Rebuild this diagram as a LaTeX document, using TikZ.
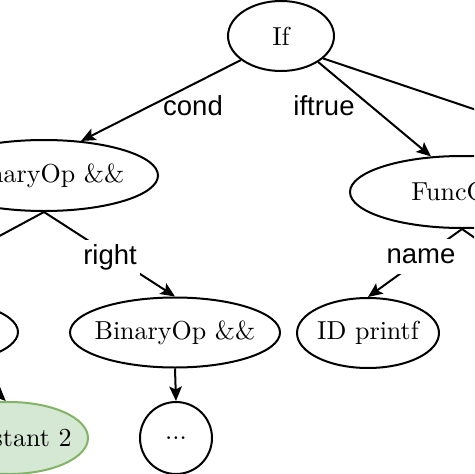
\documentclass[tikz,border=0pt]{standalone}
\usepackage{fontspec}
\newfontfamily\lblfont{Liberation Sans}
\usetikzlibrary{shapes.geometric,arrows.meta}
\definecolor{constfill}{RGB}{213,232,212}
\definecolor{constdraw}{RGB}{130,179,102}
\begin{document}
\begin{tikzpicture}[x=0.4pt,y=-0.4pt,
  nd/.style={ellipse,draw,line width=0.8pt,inner xsep=-4pt,inner ysep=0pt,font=\fontsize{10.4}{12}\selectfont},
  lbl/.style={font=\lblfont\fontsize{11}{13}\selectfont,anchor=base,inner sep=0pt},
  lblbg/.style={lbl,fill=white,inner sep=1.5pt,text height=8pt,text depth=3pt},
  edge/.style={line width=0.8pt,-{Stealth[length=5.8pt,width=5pt,inset=1.2pt]}}]
\useasboundingbox (0,0) rectangle (474,474);
\clip (0,0) rectangle (474,474);
\fill[white] (0,0) rectangle (474,474);
% nodes
\node[nd,minimum width=42.4pt,minimum height=28pt] (if) at (281,36) {If};
\node[nd,minimum width=91.2pt,minimum height=28.4pt] (binl) at (44,175.5) {BinaryOp \&\&};
\node[nd,minimum width=84pt,minimum height=28pt] (leftn) at (-87,332) {};
\node[nd,minimum width=84pt,minimum height=28pt] (binr) at (175,332.5) {BinaryOp \&\&};
\node[nd,minimum width=89.6pt,minimum height=28.8pt] (func) at (462,192) {FuncCall};
\node[nd,minimum width=56.8pt,minimum height=28pt] (idp) at (368,333) {ID printf};
\node[nd,fill=constfill,draw=constdraw,minimum width=63.2pt,minimum height=28.8pt] (const) at (9,438) {Constant 2};
\node[circle,draw,line width=0.8pt,minimum size=28.8pt,inner sep=0pt,font=\fontsize{10.4}{12}\selectfont] (dots) at (176,438) {...};
\coordinate (offr) at (640,165);
\coordinate (offfr) at (560,297);
% edges
\draw[edge] (if.211) -- (binl.43);
\draw[edge] (if.325) -- (func.131);
\draw[edge] (if.332) -- (offr);
\draw[edge] (binl.south) -- (leftn.128);
\draw[edge] (binl.south) -- (binr.north);
\draw[edge] (leftn.330) -- (const.95);
\draw[edge] (binr.south) -- (dots.north);
\draw[edge] (func.south) -- (idp.north);
\draw[edge] (func.south) -- (offfr);
% labels
\node[lbl] (lcond) at (193,115) {cond};
\node[lbl] (liftrue) at (324,115) {iftrue};
\node[lblbg] (lright) at (110,264) {right};
\node[lblbg] (lname) at (421,263) {name};
\end{tikzpicture}
\end{document}
